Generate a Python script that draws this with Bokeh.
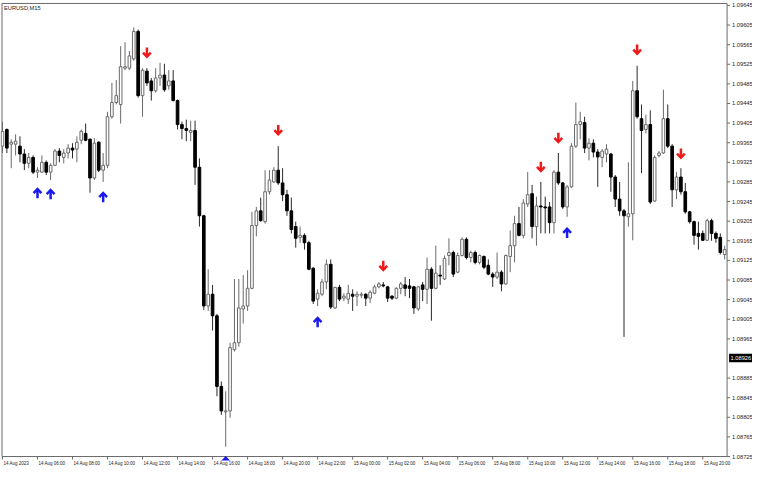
from bokeh.plotting import figure
from bokeh.models import Range1d, FixedTicker, Label, ColumnDataSource
from bokeh.embed import file_html
from bokeh.resources import INLINE
from bokeh.core.properties import value

symbol_title = "EURUSD,M15"

opens = [1.09358, 1.09392, 1.09362, 1.09362, 1.09358, 1.09342, 1.09323, 1.09335, 1.09305, 1.09305,
         1.09325, 1.09305, 1.09319, 1.09348, 1.09335, 1.09344, 1.09354, 1.09352, 1.09370, 1.09384,
         1.09372, 1.09293, 1.09366, 1.09309, 1.09319, 1.09418, 1.09447, 1.09443, 1.09517, 1.09517,
         1.09536, 1.09592, 1.09461, 1.09511, 1.09491, 1.09471, 1.09497, 1.09503, 1.09481, 1.09491,
         1.09451, 1.09402, 1.09394, 1.09386, 1.09390, 1.09315, 1.09216, 1.09032, 1.09056, 1.09012,
         1.08868, 1.08816, 1.08818, 1.08943, 1.08957, 1.09026, 1.09032, 1.09068, 1.09196, 1.09226,
         1.09204, 1.09265, 1.09285, 1.09309, 1.09283, 1.09259, 1.09226, 1.09194, 1.09172, 1.09176,
         1.09161, 1.09109, 1.09046, 1.09056, 1.09081, 1.09117, 1.09028, 1.09070, 1.09048, 1.09046,
         1.09056, 1.09052, 1.09054, 1.09056, 1.09048, 1.09058, 1.09071, 1.09075, 1.09071, 1.09052,
         1.09048, 1.09068, 1.09075, 1.09073, 1.09071, 1.09026, 1.09075, 1.09066, 1.09107, 1.09068,
         1.09095, 1.09087, 1.09135, 1.09141, 1.09101, 1.09135, 1.09168, 1.09131, 1.09141, 1.09121,
         1.09133, 1.09115, 1.09097, 1.09091, 1.09101, 1.09077, 1.09133, 1.09155, 1.09200, 1.09176,
         1.09240, 1.09261, 1.09194, 1.09236, 1.09234, 1.09234, 1.09202, 1.09305, 1.09283, 1.09234,
         1.09275, 1.09358, 1.09402, 1.09406, 1.09354, 1.09364, 1.09346, 1.09335, 1.09342, 1.09342,
         1.09295, 1.09250, 1.09226, 1.09214, 1.09220, 1.09471, 1.09414, 1.09392, 1.09402, 1.09246,
         1.09339, 1.09344, 1.09414, 1.09358, 1.09269, 1.09295, 1.09265, 1.09224, 1.09204, 1.09180,
         1.09180, 1.09166, 1.09206, 1.09180, 1.09172, 1.09137]

highs = [1.09408, 1.09394, 1.09372, 1.09382, 1.09378, 1.09352, 1.09344, 1.09339, 1.09315, 1.09339,
         1.09329, 1.09323, 1.09352, 1.09354, 1.09352, 1.09362, 1.09364, 1.09378, 1.09392, 1.09404,
         1.09374, 1.09374, 1.09368, 1.09344, 1.09428, 1.09487, 1.09493, 1.09562, 1.09570, 1.09552,
         1.09600, 1.09596, 1.09517, 1.09517, 1.09497, 1.09517, 1.09528, 1.09526, 1.09513, 1.09513,
         1.09453, 1.09408, 1.09412, 1.09410, 1.09410, 1.09333, 1.09218, 1.09107, 1.09075, 1.09016,
         1.08878, 1.08858, 1.08957, 1.09087, 1.09087, 1.09095, 1.09105, 1.09224, 1.09234, 1.09253,
         1.09309, 1.09309, 1.09315, 1.09358, 1.09313, 1.09269, 1.09253, 1.09204, 1.09194, 1.09180,
         1.09165, 1.09111, 1.09066, 1.09087, 1.09127, 1.09127, 1.09071, 1.09075, 1.09058, 1.09075,
         1.09066, 1.09062, 1.09060, 1.09058, 1.09064, 1.09075, 1.09081, 1.09081, 1.09073, 1.09054,
         1.09070, 1.09081, 1.09091, 1.09087, 1.09073, 1.09073, 1.09081, 1.09131, 1.09111, 1.09155,
         1.09115, 1.09135, 1.09170, 1.09145, 1.09141, 1.09172, 1.09172, 1.09145, 1.09145, 1.09137,
         1.09135, 1.09127, 1.09101, 1.09141, 1.09105, 1.09137, 1.09186, 1.09216, 1.09234, 1.09250,
         1.09305, 1.09279, 1.09255, 1.09285, 1.09255, 1.09244, 1.09309, 1.09344, 1.09285, 1.09279,
         1.09364, 1.09447, 1.09428, 1.09418, 1.09374, 1.09372, 1.09352, 1.09352, 1.09362, 1.09344,
         1.09299, 1.09285, 1.09230, 1.09325, 1.09491, 1.09522, 1.09443, 1.09422, 1.09431, 1.09339,
         1.09348, 1.09473, 1.09443, 1.09362, 1.09305, 1.09313, 1.09283, 1.09226, 1.09206, 1.09204,
         1.09186, 1.09210, 1.09210, 1.09184, 1.09180, 1.09155]

lows = [1.09344, 1.09344, 1.09313, 1.09339, 1.09325, 1.09309, 1.09313, 1.09301, 1.09293, 1.09303,
        1.09299, 1.09289, 1.09317, 1.09325, 1.09323, 1.09333, 1.09333, 1.09325, 1.09362, 1.09368,
        1.09263, 1.09289, 1.09305, 1.09285, 1.09313, 1.09414, 1.09443, 1.09404, 1.09513, 1.09513,
        1.09532, 1.09457, 1.09418, 1.09481, 1.09451, 1.09467, 1.09481, 1.09469, 1.09473, 1.09449,
        1.09392, 1.09372, 1.09368, 1.09368, 1.09279, 1.09194, 1.09024, 1.09022, 1.08982, 1.08848,
        1.08810, 1.08745, 1.08804, 1.08939, 1.08949, 1.08996, 1.09022, 1.09066, 1.09174, 1.09204,
        1.09200, 1.09259, 1.09283, 1.09279, 1.09246, 1.09216, 1.09180, 1.09151, 1.09161, 1.09147,
        1.09105, 1.09036, 1.09032, 1.09052, 1.09066, 1.09026, 1.09026, 1.09042, 1.09042, 1.09036,
        1.09022, 1.09032, 1.09048, 1.09032, 1.09038, 1.09056, 1.09068, 1.09070, 1.09040, 1.09044,
        1.09046, 1.09056, 1.09052, 1.09048, 1.09016, 1.09022, 1.09042, 1.09036, 1.09002, 1.09066,
        1.09075, 1.09085, 1.09115, 1.09091, 1.09099, 1.09133, 1.09127, 1.09121, 1.09117, 1.09117,
        1.09107, 1.09095, 1.09071, 1.09087, 1.09062, 1.09075, 1.09101, 1.09121, 1.09174, 1.09170,
        1.09234, 1.09170, 1.09155, 1.09180, 1.09180, 1.09180, 1.09180, 1.09279, 1.09230, 1.09214,
        1.09273, 1.09354, 1.09372, 1.09344, 1.09329, 1.09335, 1.09275, 1.09315, 1.09325, 1.09265,
        1.09234, 1.09216, 1.08969, 1.09194, 1.09166, 1.09414, 1.09303, 1.09384, 1.09240, 1.09244,
        1.09335, 1.09342, 1.09354, 1.09234, 1.09250, 1.09259, 1.09220, 1.09200, 1.09157, 1.09147,
        1.09165, 1.09165, 1.09165, 1.09161, 1.09137, 1.09127]

closes = [1.09388, 1.09354, 1.09366, 1.09368, 1.09342, 1.09323, 1.09335, 1.09305, 1.09309, 1.09325,
          1.09305, 1.09319, 1.09348, 1.09339, 1.09344, 1.09354, 1.09350, 1.09366, 1.09388, 1.09370,
          1.09293, 1.09364, 1.09309, 1.09319, 1.09418, 1.09447, 1.09461, 1.09520, 1.09520, 1.09542,
          1.09592, 1.09461, 1.09513, 1.09487, 1.09471, 1.09497, 1.09503, 1.09473, 1.09491, 1.09451,
          1.09402, 1.09394, 1.09390, 1.09390, 1.09315, 1.09216, 1.09032, 1.09056, 1.09012, 1.08868,
          1.08818, 1.08818, 1.08947, 1.08957, 1.09028, 1.09032, 1.09068, 1.09196, 1.09226, 1.09206,
          1.09265, 1.09289, 1.09309, 1.09283, 1.09259, 1.09226, 1.09188, 1.09170, 1.09176, 1.09161,
          1.09107, 1.09042, 1.09058, 1.09081, 1.09117, 1.09030, 1.09070, 1.09046, 1.09052, 1.09058,
          1.09052, 1.09056, 1.09056, 1.09048, 1.09060, 1.09071, 1.09077, 1.09073, 1.09048, 1.09048,
          1.09068, 1.09077, 1.09068, 1.09068, 1.09028, 1.09071, 1.09066, 1.09107, 1.09068, 1.09099,
          1.09093, 1.09129, 1.09141, 1.09097, 1.09135, 1.09168, 1.09131, 1.09141, 1.09121, 1.09135,
          1.09111, 1.09097, 1.09091, 1.09101, 1.09077, 1.09135, 1.09155, 1.09200, 1.09176, 1.09242,
          1.09259, 1.09194, 1.09236, 1.09234, 1.09232, 1.09202, 1.09305, 1.09283, 1.09234, 1.09275,
          1.09358, 1.09402, 1.09408, 1.09354, 1.09364, 1.09346, 1.09336, 1.09348, 1.09352, 1.09295,
          1.09250, 1.09226, 1.09216, 1.09220, 1.09471, 1.09418, 1.09390, 1.09402, 1.09244, 1.09335,
          1.09344, 1.09414, 1.09358, 1.09269, 1.09295, 1.09265, 1.09224, 1.09204, 1.09176, 1.09174,
          1.09166, 1.09206, 1.09180, 1.09170, 1.09141, 1.09147]

time_labels = ["14 Aug 2023", "14 Aug 06:00", "14 Aug 08:00", "14 Aug 10:00", "14 Aug 12:00",
               "14 Aug 14:00", "14 Aug 16:00", "14 Aug 18:00", "14 Aug 20:00", "14 Aug 22:00",
               "15 Aug 00:00", "15 Aug 02:00", "15 Aug 04:00", "15 Aug 06:00", "15 Aug 08:00",
               "15 Aug 10:00", "15 Aug 12:00", "15 Aug 14:00", "15 Aug 16:00", "15 Aug 18:00",
               "15 Aug 20:00"]
bars_per_label = 8

price_ticks = [1.08725, 1.08765, 1.08805, 1.08845, 1.08885, 1.08965, 1.09005, 1.09045,
               1.09085, 1.09125, 1.09165, 1.09205, 1.09245, 1.09285, 1.09325, 1.09365, 1.09405,
               1.09445, 1.09485, 1.09525, 1.09565, 1.09605, 1.09645]
current_price = 1.08926

up_bars = [8, 11, 23, 51, 72, 129]
up_prices = [1.09261, 1.09259, 1.09253, 1.08713, 1.08998, 1.09180]
down_bars = [33, 63, 87, 123, 127, 145, 155]
down_prices = [1.09550, 1.09392, 1.09115, 1.09317, 1.09376, 1.09556, 1.09344]

# ---------------- layout / style ----------------
FONT = "Liberation Sans"
X_FONT = "4.5px"
Y_FONT = "5.7px"
W, H = 752, 468
PX_PER_BAR = 4.377                 # bar spacing on screen
X0 = -0.45                         # left end of view, in bars
X1 = X0 + W / PX_PER_BAR           # frame covers the whole canvas width
LEFT_EDGE = -0.11                  # chart border (bars)
AXIS_X = 165.55                    # price-axis line (bars)
TOP_P, BOT_P = 1.09649, 1.08725    # chart border prices (top / bottom lines)
FRAME_H_EST = 461.0
Y1 = 1.09653
PX_PER_PRICE = FRAME_H_EST / (Y1 - 1.087168)
Y0 = BOT_P - 4.0 / PX_PER_PRICE   # leave room below the bottom line for text
dxp = 1.0 / PX_PER_BAR
dyp = 1.0 / PX_PER_PRICE
LINE_C = "#6a6a6a"
TEXT_C = "#222222"

n = len(opens)
bull_i = [i for i in range(n) if closes[i] >= opens[i]]
bear_i = [i for i in range(n) if closes[i] < opens[i]]

def mk(ids):
    return ColumnDataSource(dict(
        x=ids,
        top=[max(opens[i], closes[i]) for i in ids],
        bottom=[min(opens[i], closes[i]) for i in ids],
        high=[highs[i] for i in ids],
        low=[lows[i] for i in ids],
    ))

bull_src = mk(bull_i)
bear_src = mk(bear_i)

p = figure(width=W, height=H, output_backend="svg", toolbar_location=None,
           y_axis_location=None,
           x_range=Range1d(X0, X1), y_range=Range1d(Y0, Y1),
           min_border_left=0, min_border_top=1, min_border_right=0, min_border_bottom=0)
p.grid.visible = False
p.background_fill_color = "white"
p.border_fill_color = "white"
p.outline_line_color = None

# chart border and price axis line
p.segment(x0=[LEFT_EDGE, LEFT_EDGE, LEFT_EDGE, AXIS_X],
          y0=[BOT_P, TOP_P, BOT_P, BOT_P],
          x1=[LEFT_EDGE, AXIS_X, AXIS_X, AXIS_X],
          y1=[TOP_P, TOP_P, BOT_P, TOP_P],
          line_color=LINE_C, line_width=1)

# candles
p.segment(x0="x", y0="low", x1="x", y1="high", source=bull_src, line_color=LINE_C, line_width=1)
p.segment(x0="x", y0="low", x1="x", y1="high", source=bear_src, line_color="#2a2a2a", line_width=1)
p.vbar(x="x", width=0.6, top="top", bottom="bottom", source=bull_src,
       fill_color="white", line_color=LINE_C, line_width=1)
p.vbar(x="x", width=0.6, top="top", bottom="bottom", source=bear_src,
       fill_color="black", line_color="black", line_width=1)

# signal arrows
def arrows(bars, prices, up):
    s = 1 if up else -1
    xs, ys = [], []
    for b, pr in zip(bars, prices):
        xs.append([b, b])
        ys.append([pr - s * 4.6 * dyp, pr + s * 4.3 * dyp])
        xs.append([b - 3.9 * dxp, b, b + 3.9 * dxp])
        ys.append([pr + s * 0.6 * dyp, pr + s * 4.7 * dyp, pr + s * 0.6 * dyp])
    return xs, ys

uxs, uys = arrows(up_bars, up_prices, True)
dxs, dys = arrows(down_bars, down_prices, False)
p.multi_line(xs=uxs, ys=uys, line_color="#1a1aee", line_width=2.5, line_join="miter")
p.multi_line(xs=dxs, ys=dys, line_color="#ee1a1a", line_width=2.5, line_join="miter")

# price scale on the right (ticks, labels, current price box)
p.segment(x0=[AXIS_X] * len(price_ticks), y0=price_ticks,
          x1=[AXIS_X + 3 * dxp] * len(price_ticks), y1=price_ticks,
          line_color=LINE_C, line_width=1)
p.text(x=[AXIS_X + 5 * dxp] * len(price_ticks), y=price_ticks,
       text=["%.5f" % t for t in price_ticks], text_font=value(FONT), text_font_size=Y_FONT,
       text_color=TEXT_C, text_align="left", text_baseline="middle")
p.rect(x=[AXIS_X + 13.5 * dxp], y=[current_price], width=23, height=8.5,
       width_units="screen", height_units="screen", fill_color="black", line_color=None)
p.text(x=[AXIS_X + 3.5 * dxp], y=[current_price], text=["%.5f" % current_price],
       text_font=value(FONT), text_font_size=Y_FONT, text_color="white",
       text_align="left", text_baseline="middle")

# time scale: tick marks at the bar positions, labels starting just right of them
true_ticks = [k * bars_per_label for k in range(len(time_labels))]
p.segment(x0=true_ticks, y0=[BOT_P] * len(true_ticks),
          x1=true_ticks, y1=[BOT_P - 3 * dyp] * len(true_ticks),
          line_color=LINE_C, line_width=1)

CW = {" ": 0.278, ":": 0.278, "A": 0.667, "u": 0.556, "g": 0.556}
def label_px(s):
    return sum(CW.get(c, 0.556) for c in s) * float(X_FONT[:-2])

label_ticks = [round(t + (label_px(s) / 2 + 1.0) * dxp, 3) for t, s in zip(true_ticks, time_labels)]

xa = p.xaxis[0]
xa.ticker = FixedTicker(ticks=label_ticks, minor_ticks=[])
xa.major_label_overrides = {t: s for t, s in zip(label_ticks, time_labels)}
xa.major_label_text_font = FONT
xa.major_label_text_font_size = X_FONT
xa.major_label_text_color = TEXT_C
xa.major_label_standoff = 0
xa.major_tick_line_color = None
xa.major_tick_out = 0
xa.major_tick_in = 0
xa.minor_tick_out = 0
xa.minor_tick_in = 0
xa.axis_line_color = None

p.add_layout(Label(x=LEFT_EDGE, y=TOP_P, x_offset=2, y_offset=-2, text=symbol_title,
                   text_font=FONT, text_font_size="5.7px", text_color=TEXT_C,
                   text_baseline="top", text_align="left"))

open("out.html", "w").write(file_html(p, INLINE))
